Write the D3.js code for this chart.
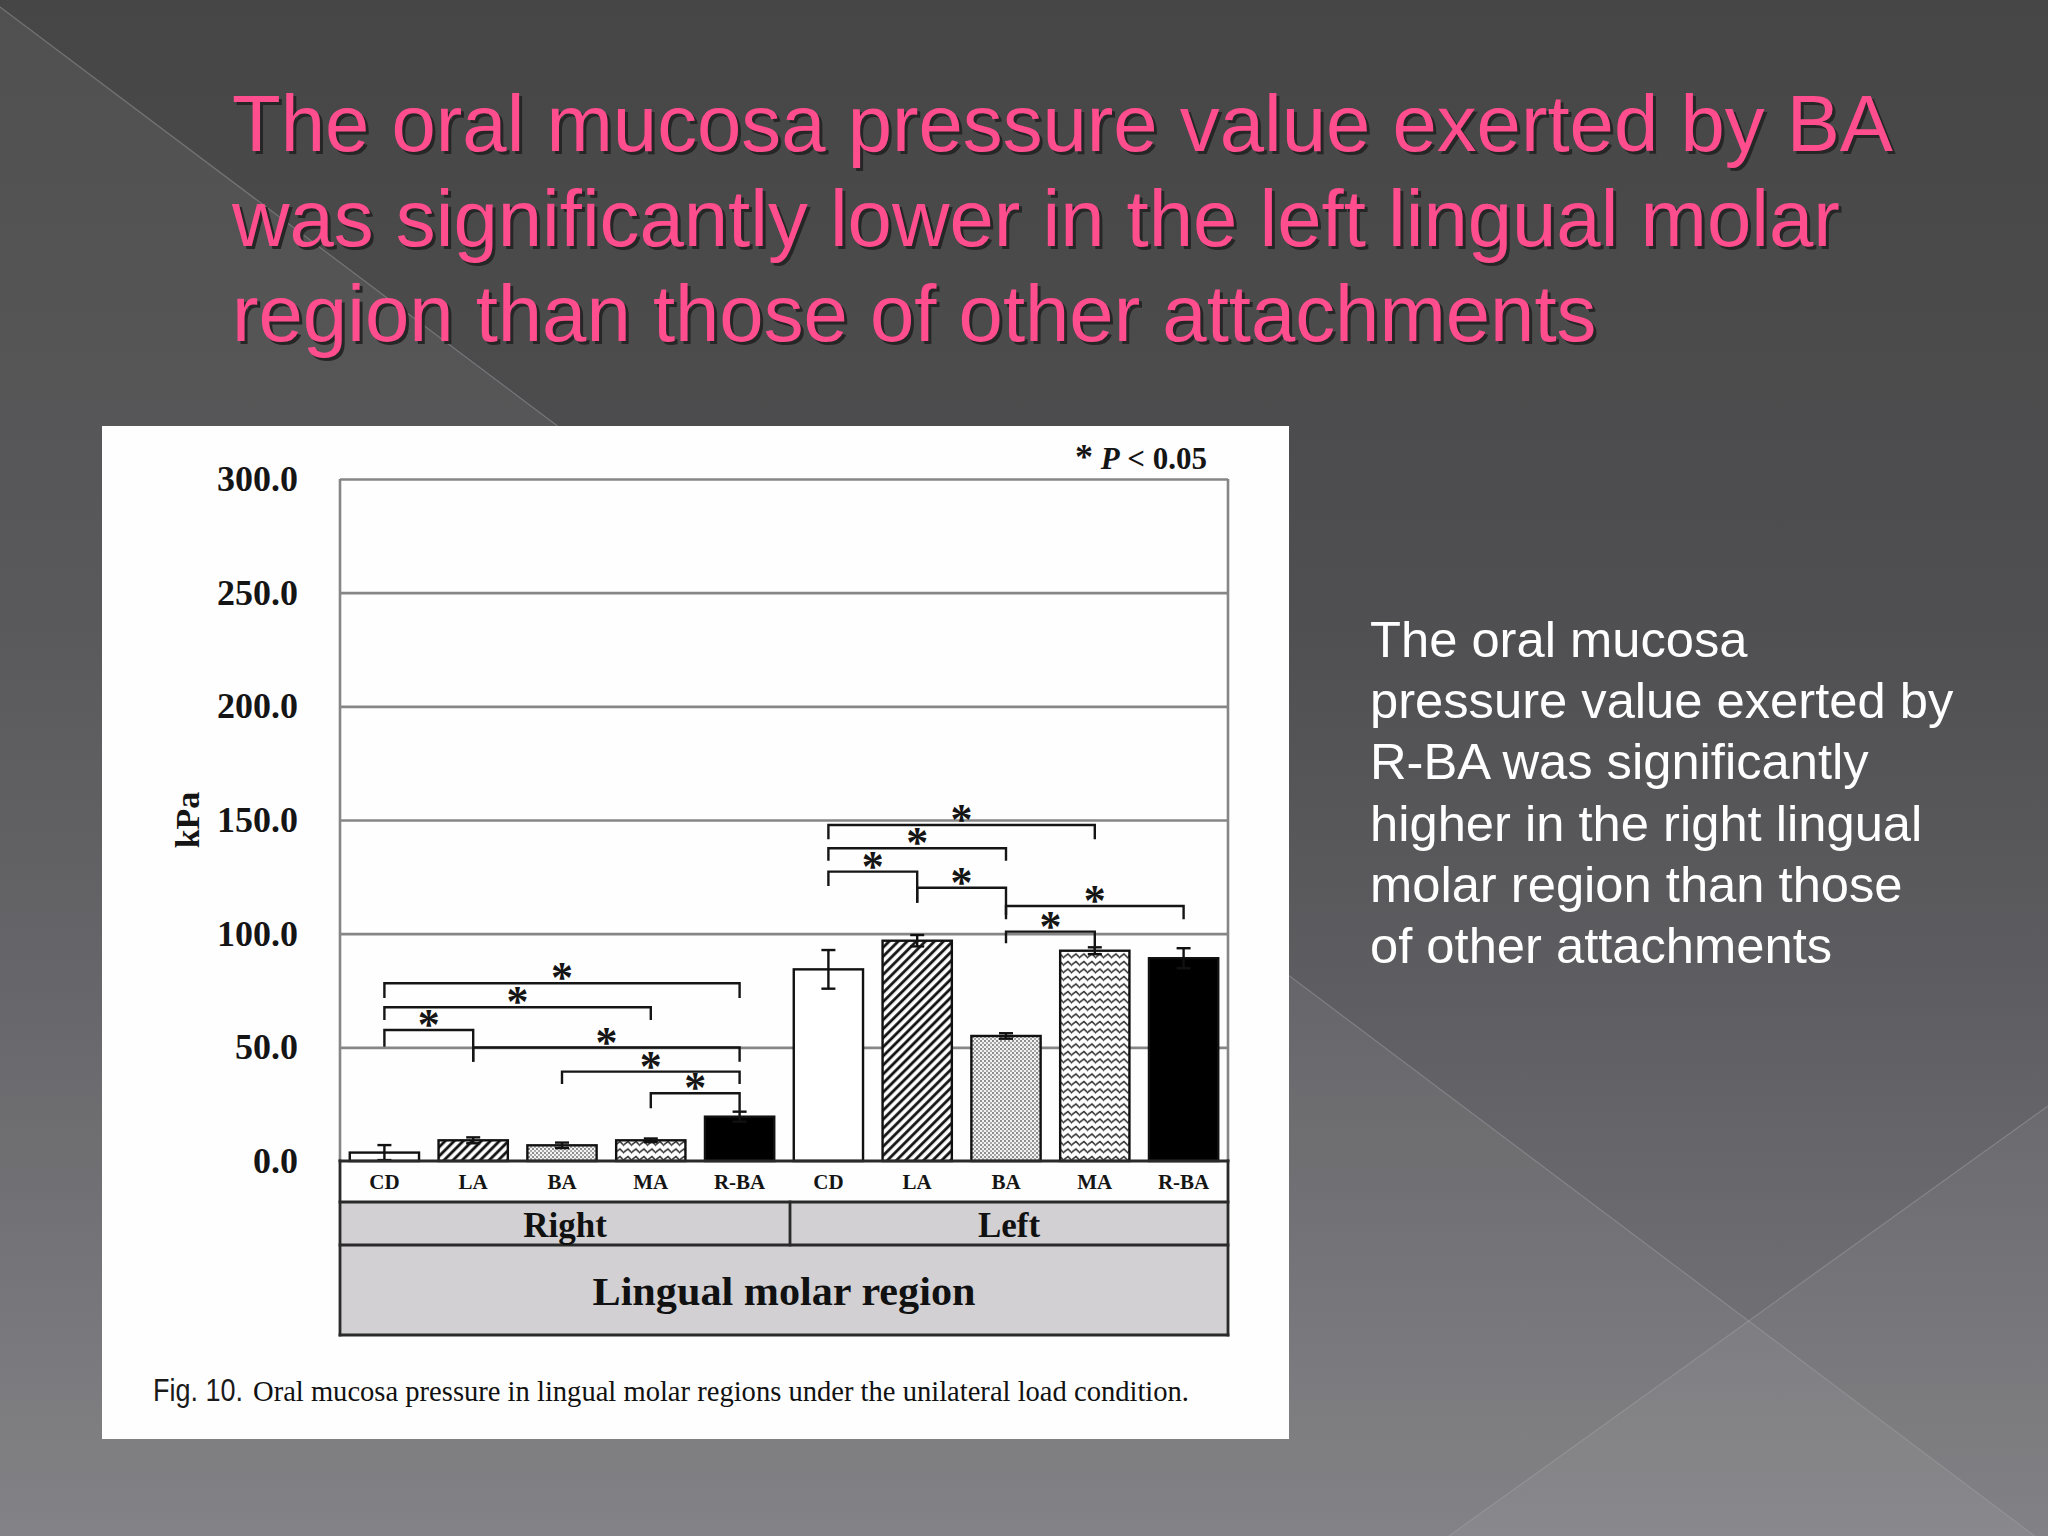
<!DOCTYPE html>
<html>
<head>
<meta charset="utf-8">
<script src="https://cdn.jsdelivr.net/npm/d3@7"></script>
<style>
  html, body { margin: 0; padding: 0; background: #4a4a4a; }
  svg { display: block; }
</style>
</head>
<body>
<svg id="slide" width="2048" height="1536"></svg>
<script>
// values (kPa, mean and SD)
var categories = ['CD', 'LA', 'BA', 'MA', 'R-BA'];
var sides = ['Right', 'Left'];
var rightMeans = [3.7, 9.1, 6.9, 9.1, 19.5];
var rightErrors = [3.3, 1.3, 1.2, 0.8, 2.2];
var leftMeans = [84.3, 96.9, 55.0, 92.5, 89.2];
var leftErrors = [8.5, 2.5, 1.2, 1.5, 4.4];
var yTicks = [0, 50, 100, 150, 200, 250, 300];

// significance brackets: [from, to, level, left leg end, right leg end]
var rightBrackets = [
    [0, 4, 78.2, 71.7, 71.7],
    [0, 3, 67.6, 62.0, 62.0],
    [0, 1, 57.6, 50.3, 43.7],
    [1, 4, 49.9, 43.7, 43.7],
    [2, 4, 39.3, 33.9, 33.9],
    [3, 4, 29.8, 23.2, 21.7]
];
var leftBrackets = [
    [0, 3, 147.8, 141.5, 141.5],
    [0, 2, 137.6, 132.1, 132.1],
    [0, 1, 127.3, 121.0, 113.6],
    [1, 2, 120.2, 113.6, 108.2],
    [2, 4, 112.2, 106.3, 106.3],
    [2, 3, 100.9, 95.8, 92.5]
];

var titleLines = [
    'The oral mucosa pressure value exerted by BA',
    'was significantly lower in the left lingual molar',
    'region than those of other attachments'
];
var noteLines = [
    'The oral mucosa',
    'pressure value exerted by',
    'R-BA was significantly',
    'higher in the right lingual',
    'molar region than those',
    'of other attachments'
];

;(function() {
    var svg = d3.select('#slide');
    var defs = svg.append('defs');
    var serif = '"Liberation Serif", "Times New Roman", serif';
    var sans = '"Liberation Sans", Arial, sans-serif';

    // ---- slide background ----
    var bg = defs.append('linearGradient').attr('id', 'bg')
        .attr('x1', 0).attr('y1', 0).attr('x2', 0).attr('y2', 1);
    bg.append('stop').attr('offset', 0).attr('stop-color', '#464646');
    bg.append('stop').attr('offset', 0.4).attr('stop-color', '#4f4f51');
    bg.append('stop').attr('offset', 0.65).attr('stop-color', '#5e5d61');
    bg.append('stop').attr('offset', 1).attr('stop-color', '#7c7b7f');

    svg.append('rect').attr('width', 2048).attr('height', 1536).attr('fill', 'url(#bg)');
    svg.append('polygon')
        .attr('points', '0,7 2048,1546 0,1536')
        .attr('fill', '#fff').attr('opacity', 0.06);
    svg.append('polygon')
        .attr('points', '2048,1106 1449,1536 2048,1536')
        .attr('fill', '#fff').attr('opacity', 0.05);
    svg.append('line').attr('x1', 0).attr('y1', 7).attr('x2', 2048).attr('y2', 1546)
        .attr('stroke', '#a5a5a8').attr('stroke-opacity', 0.45).attr('stroke-width', 1.2);
    svg.append('line').attr('x1', 2048).attr('y1', 1106).attr('x2', 1449).attr('y2', 1536)
        .attr('stroke', '#a5a5a8').attr('stroke-opacity', 0.45).attr('stroke-width', 1.2);

    // ---- title ----
    var title = svg.append('g');
    [['#262626', 3], ['#ff4d8d', 0]].forEach(function(s) {
        title.selectAll(null)
            .data(titleLines)
            .enter().append('text')
            .attr('x', 232 + s[1])
            .attr('y', function(d, i) { return 151 + i * 95 + s[1]; })
            .attr('font-family', sans)
            .attr('font-size', 79.7)
            .attr('fill', s[0])
            .text(function(d) { return d; });
    });

    // ---- side note ----
    svg.append('g').selectAll('text')
        .data(noteLines)
        .enter().append('text')
        .attr('x', 1370)
        .attr('y', function(d, i) { return 657 + i * 61.2; })
        .attr('font-family', sans)
        .attr('font-size', 50.7)
        .attr('fill', '#ffffff')
        .text(function(d) { return d; });

    // ---- figure panel ----
    svg.append('rect')
        .attr('x', 102).attr('y', 426).attr('width', 1187).attr('height', 1013)
        .attr('fill', '#fefefe');

    // patterns for the bars
    var hatch = defs.append('pattern').attr('id', 'hatch')
        .attr('patternUnits', 'userSpaceOnUse').attr('width', 6.4).attr('height', 6.4)
        .attr('patternTransform', 'rotate(45)');
    hatch.append('rect').attr('width', 6.4).attr('height', 6.4).attr('fill', '#fff');
    hatch.append('line').attr('x1', 1.6).attr('y1', 0).attr('x2', 1.6).attr('y2', 6.4)
        .attr('stroke', '#111').attr('stroke-width', 2.8);

    var dots = defs.append('pattern').attr('id', 'dots')
        .attr('patternUnits', 'userSpaceOnUse').attr('width', 4).attr('height', 4);
    dots.append('rect').attr('width', 4).attr('height', 4).attr('fill', '#f2f2f2');
    dots.append('rect').attr('width', 2).attr('height', 2).attr('fill', '#8e8e8e');
    dots.append('rect').attr('x', 2).attr('y', 2).attr('width', 2).attr('height', 2).attr('fill', '#a8a8a8');

    var waves = defs.append('pattern').attr('id', 'waves')
        .attr('patternUnits', 'userSpaceOnUse').attr('width', 8).attr('height', 7.5);
    waves.append('rect').attr('width', 8).attr('height', 7.5).attr('fill', '#fff');
    waves.append('path').attr('d', 'M-1,5.5 L0,4.5 L4,1.5 L8,5.5 L9,4.5')
        .attr('fill', 'none').attr('stroke', '#333').attr('stroke-width', 1.6);

    var fills = ['#ffffff', 'url(#hatch)', 'url(#dots)', 'url(#waves)', '#000000'];

    var rows = [];
    sides.forEach(function(side) {
        var means = side === 'Right' ? rightMeans : leftMeans;
        var errs = side === 'Right' ? rightErrors : leftErrors;
        categories.forEach(function(cat, i) {
            rows.push({ key: side + ' ' + cat, side: side, cat: cat, idx: i, mean: means[i], err: errs[i] });
        });
    });

    var plot = { left: 340, right: 1228, top: 479, bottom: 1161 };

    var x = d3.scaleBand()
        .domain(rows.map(function(d) { return d.key; }))
        .range([plot.left, plot.right])
        .paddingInner(0.22)
        .paddingOuter(0.11);

    var y = d3.scaleLinear()
        .domain([0, 300])
        .range([plot.bottom, plot.top]);

    var chart = svg.append('g').attr('class', 'chart');

    // gridlines
    var grid = chart.append('g')
        .attr('transform', 'translate(' + plot.left + ',0)')
        .call(d3.axisLeft(y).tickValues(yTicks.slice(1)).tickSize(-(plot.right - plot.left)).tickFormat(''));
    grid.select('.domain').remove();
    grid.selectAll('line').attr('stroke', '#868686').attr('stroke-width', 2.6);

    [plot.left, plot.right].forEach(function(px) {
        chart.append('line')
            .attr('x1', px).attr('x2', px).attr('y1', plot.top).attr('y2', plot.bottom)
            .attr('stroke', '#868686').attr('stroke-width', 2.6);
    });

    // y tick labels
    var yAxis = chart.append('g')
        .attr('transform', 'translate(' + plot.left + ',0)')
        .call(d3.axisLeft(y).tickValues(yTicks).tickSize(0).tickPadding(42).tickFormat(d3.format('.1f')));
    yAxis.select('.domain').remove();
    yAxis.selectAll('text')
        .attr('font-family', serif).attr('font-weight', 'bold')
        .attr('font-size', 36).attr('fill', '#151515');

    chart.append('text')
        .attr('transform', 'translate(199,820) rotate(-90)')
        .attr('text-anchor', 'middle')
        .attr('font-family', serif).attr('font-weight', 'bold')
        .attr('font-size', 34).attr('fill', '#151515')
        .text('kPa');

    // bars
    chart.append('g').selectAll('rect')
        .data(rows)
        .enter().append('rect')
        .attr('x', function(d) { return x(d.key); })
        .attr('y', function(d) { return y(d.mean); })
        .attr('width', x.bandwidth())
        .attr('height', function(d) { return y(0) - y(d.mean); })
        .attr('fill', function(d) { return fills[d.idx]; })
        .attr('stroke', '#111')
        .attr('stroke-width', 2.4);

    // error bars
    var errG = chart.append('g').attr('stroke', '#111').attr('stroke-width', 2.4);
    rows.forEach(function(d) {
        var cx = x(d.key) + x.bandwidth() / 2;
        errG.append('line')
            .attr('x1', cx).attr('x2', cx)
            .attr('y1', y(Math.max(0, d.mean - d.err))).attr('y2', y(d.mean + d.err));
        [d.mean + d.err, Math.max(0, d.mean - d.err)].forEach(function(v) {
            errG.append('line')
                .attr('x1', cx - 7).attr('x2', cx + 7)
                .attr('y1', y(v)).attr('y2', y(v));
        });
    });

    // significance brackets
    var brG = chart.append('g');
    function center(side, i) { return x(side + ' ' + categories[i]) + x.bandwidth() / 2; }
    [['Right', rightBrackets], ['Left', leftBrackets]].forEach(function(s) {
        s[1].forEach(function(b) {
            var x1 = center(s[0], b[0]), x2 = center(s[0], b[1]);
            brG.append('path')
                .attr('d', 'M' + x1 + ',' + y(b[3]) + 'V' + y(b[2]) + 'H' + x2 + 'V' + y(b[4]))
                .attr('fill', 'none').attr('stroke', '#151515').attr('stroke-width', 2.4);
            brG.append('text')
                .attr('x', (x1 + x2) / 2)
                .attr('y', y(b[2]) + 9)
                .attr('text-anchor', 'middle')
                .attr('font-family', serif).attr('font-weight', 'bold')
                .attr('font-size', 44).attr('fill', '#151515')
                .text('*');
        });
    });

    var pNote = chart.append('text')
        .attr('x', 1207).attr('y', 469)
        .attr('text-anchor', 'end')
        .attr('font-family', serif).attr('font-weight', 'bold')
        .attr('font-size', 31).attr('fill', '#151515');
    pNote.append('tspan').attr('font-size', 36).text('*');
    pNote.append('tspan').text(' ');
    pNote.append('tspan').attr('font-style', 'italic').text('P');
    pNote.append('tspan').text(' < 0.05');

    // category box under the bars
    var boxBottom = 1335, row1 = 1202, row2 = 1245;
    var box = chart.append('g');
    box.append('rect')
        .attr('x', plot.left).attr('y', row1)
        .attr('width', plot.right - plot.left).attr('height', boxBottom - row1)
        .attr('fill', '#d2d0d3');
    var split = (x('Right R-BA') + x.bandwidth() + x('Left CD')) / 2 + 6;
    var edges = [
        [plot.left, plot.bottom, plot.right, plot.bottom],
        [plot.left, row1, plot.right, row1],
        [plot.left, row2, plot.right, row2],
        [plot.left, boxBottom, plot.right, boxBottom],
        [plot.left, plot.bottom, plot.left, boxBottom],
        [plot.right, plot.bottom, plot.right, boxBottom],
        [split, row1, split, row2]
    ];
    box.selectAll('line')
        .data(edges)
        .enter().append('line')
        .attr('x1', function(d) { return d[0]; })
        .attr('y1', function(d) { return d[1]; })
        .attr('x2', function(d) { return d[2]; })
        .attr('y2', function(d) { return d[3]; })
        .attr('stroke', '#2a2a2a')
        .attr('stroke-width', 2.8)
        .attr('stroke-linecap', 'square');

    var xAxis = chart.append('g')
        .attr('transform', 'translate(0,' + plot.bottom + ')')
        .call(d3.axisBottom(x).tickSize(0).tickFormat(function(k) { return k.split(' ')[1]; }));
    xAxis.select('.domain').remove();
    xAxis.selectAll('text')
        .attr('y', 21).attr('dy', '0.35em')
        .attr('font-family', serif).attr('font-weight', 'bold')
        .attr('font-size', 21).attr('fill', '#151515');

    box.selectAll('text.side')
        .data(sides)
        .enter().append('text')
        .attr('class', 'side')
        .attr('x', function(d, i) { return i === 0 ? (plot.left + split) / 2 : (split + plot.right) / 2; })
        .attr('y', 1225).attr('dy', '0.35em')
        .attr('text-anchor', 'middle')
        .attr('font-family', serif).attr('font-weight', 'bold')
        .attr('font-size', 35).attr('fill', '#111')
        .text(function(d) { return d; });

    box.append('text')
        .attr('x', (plot.left + plot.right) / 2)
        .attr('y', 1291).attr('dy', '0.35em')
        .attr('text-anchor', 'middle')
        .attr('font-family', serif).attr('font-weight', 'bold')
        .attr('font-size', 40).attr('fill', '#111')
        .attr('textLength', 383).attr('lengthAdjust', 'spacingAndGlyphs')
        .text('Lingual molar region');

    // caption
    chart.append('text')
        .attr('x', 153).attr('y', 1401)
        .attr('font-family', sans).attr('font-size', 31).attr('fill', '#1a1a1a')
        .attr('textLength', 90).attr('lengthAdjust', 'spacingAndGlyphs')
        .text('Fig. 10.');
    chart.append('text')
        .attr('x', 253).attr('y', 1401)
        .attr('font-family', serif).attr('font-size', 29).attr('fill', '#111')
        .attr('textLength', 936).attr('lengthAdjust', 'spacingAndGlyphs')
        .text('Oral mucosa pressure in lingual molar regions under the unilateral load condition.');
})();
</script>
</body>
</html>
